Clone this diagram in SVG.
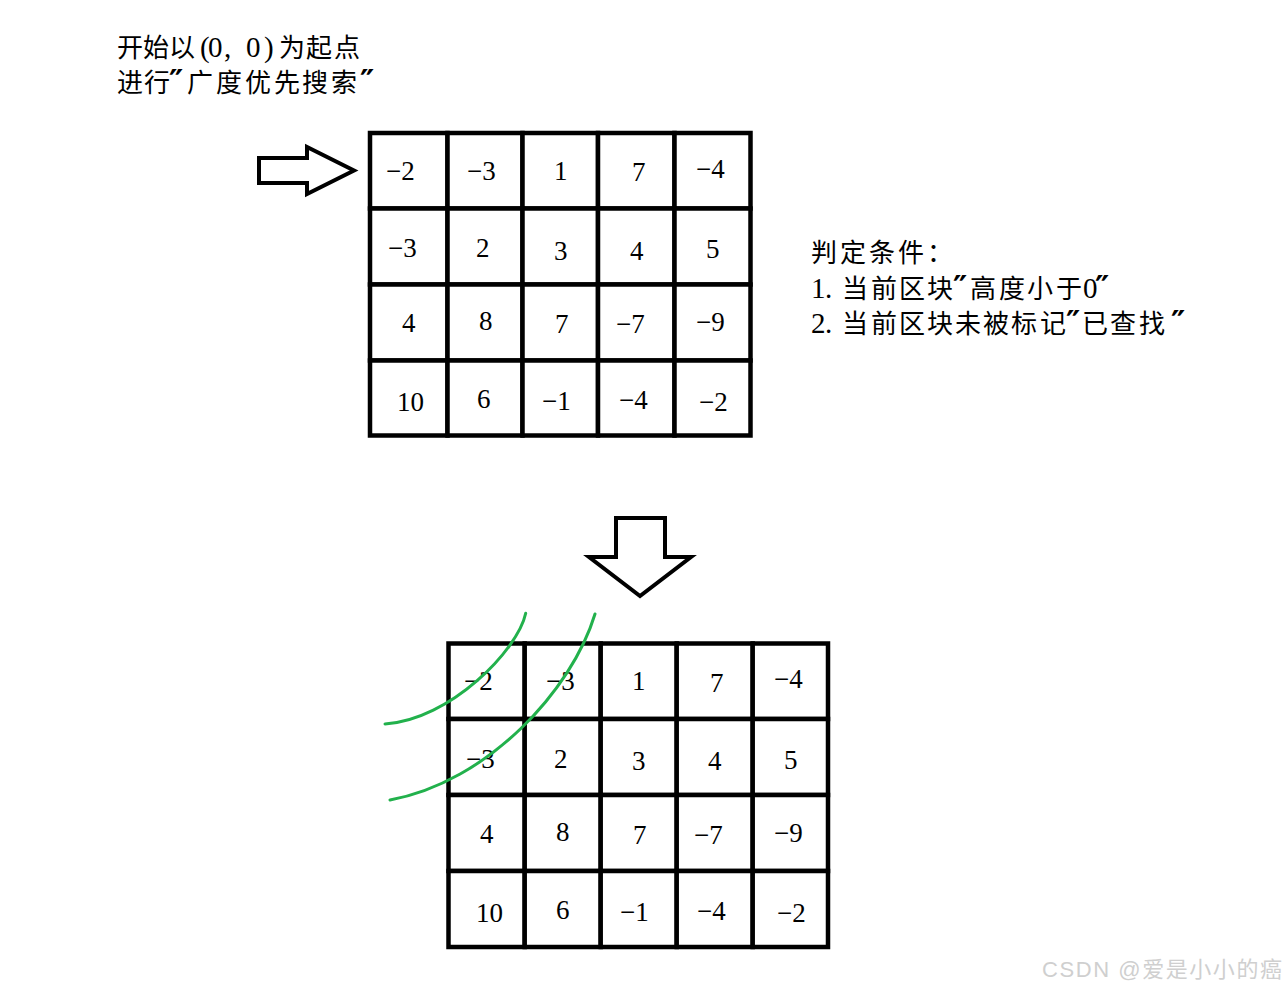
<svg xmlns="http://www.w3.org/2000/svg" width="1284" height="990" viewBox="0 0 1284 990">
<style>
.cell{fill:#fff;stroke:#000;stroke-width:4.5}
.num{font-family:"Liberation Serif","DejaVu Serif",serif;font-size:27px;fill:#000}
.cn{font-family:"Liberation Serif","Noto Sans CJK SC",serif;font-size:26px;fill:#000}
.lat{font-family:"Liberation Serif","DejaVu Serif",serif;font-size:29px}
.q{font-family:"DejaVu Serif","Liberation Serif",serif;font-size:32px;font-weight:bold}
.arrow{fill:#fff;stroke:#000;stroke-width:4;stroke-linejoin:miter}
.mark{fill:none;stroke:#22b14c;stroke-width:3;stroke-linecap:round}
.wm{font-family:"Liberation Sans","Noto Sans CJK SC",sans-serif;font-size:22px;fill:#cfcfcf}
</style>
<rect width="1284" height="990" fill="#fff"/>

<g id="title">
<text class="cn" y="57"><tspan x="117 143 169">开始以</tspan><tspan class="lat" x="200 208 224 231 246 264">(0, 0)</tspan><tspan x="279 306 334">为起点</tspan></text>
<text class="cn" y="92"><tspan x="117 144">进行</tspan><tspan class="q" x="169">″</tspan><tspan x="187 216 245 274 302 331">广度优先搜索</tspan><tspan class="q" x="360">″</tspan></text>
</g>

<g id="conditions">
<text class="cn" y="262" x="811 840 869 898 927">判定条件：</text>
<text class="cn" y="298"><tspan class="lat" x="811 825 836">1. </tspan><tspan x="842 871 899 927">当前区块</tspan><tspan class="q" x="953">″</tspan><tspan x="970 999 1027 1056">高度小于</tspan><tspan class="lat" x="1083">0</tspan><tspan class="q" x="1095">″</tspan></text>
<text class="cn" y="333"><tspan class="lat" x="811 825 836">2. </tspan><tspan x="842 871 899 927 955 983 1011 1040">当前区块未被标记</tspan><tspan class="q" x="1066">″</tspan><tspan x="1082 1110 1139">已查找</tspan><tspan class="q" x="1171">″</tspan></text>
</g>

<g id="grid-before">
<g id="a00"><rect class="cell" x="370" y="133" width="77.5" height="75.5"/><text class="num" x="386" y="180">−2</text></g>
<g id="a01"><rect class="cell" x="447.5" y="133" width="75" height="75.5"/><text class="num" x="467" y="180">−3</text></g>
<g id="a02"><rect class="cell" x="522.5" y="133" width="75.5" height="75.5"/><text class="num" x="554" y="180">1</text></g>
<g id="a03"><rect class="cell" x="598" y="133" width="76.5" height="75.5"/><text class="num" x="632" y="181">7</text></g>
<g id="a04"><rect class="cell" x="674.5" y="133" width="76" height="75.5"/><text class="num" x="696" y="178">−4</text></g>

<g id="a10"><rect class="cell" x="370" y="208.5" width="77.5" height="76"/><text class="num" x="388" y="257">−3</text></g>
<g id="a11"><rect class="cell" x="447.5" y="208.5" width="75" height="76"/><text class="num" x="476" y="257">2</text></g>
<g id="a12"><rect class="cell" x="522.5" y="208.5" width="75.5" height="76"/><text class="num" x="554" y="260">3</text></g>
<g id="a13"><rect class="cell" x="598" y="208.5" width="76.5" height="76"/><text class="num" x="630" y="260">4</text></g>
<g id="a14"><rect class="cell" x="674.5" y="208.5" width="76" height="76"/><text class="num" x="706" y="258">5</text></g>

<g id="a20"><rect class="cell" x="370" y="284.5" width="77.5" height="76"/><text class="num" x="402" y="332">4</text></g>
<g id="a21"><rect class="cell" x="447.5" y="284.5" width="75" height="76"/><text class="num" x="479" y="330">8</text></g>
<g id="a22"><rect class="cell" x="522.5" y="284.5" width="75.5" height="76"/><text class="num" x="555" y="333">7</text></g>
<g id="a23"><rect class="cell" x="598" y="284.5" width="76.5" height="76"/><text class="num" x="616" y="333">−7</text></g>
<g id="a24"><rect class="cell" x="674.5" y="284.5" width="76" height="76"/><text class="num" x="696" y="331">−9</text></g>

<g id="a30"><rect class="cell" x="370" y="360.5" width="77.5" height="75"/><text class="num" x="397" y="411">10</text></g>
<g id="a31"><rect class="cell" x="447.5" y="360.5" width="75" height="75"/><text class="num" x="477" y="408">6</text></g>
<g id="a32"><rect class="cell" x="522.5" y="360.5" width="75.5" height="75"/><text class="num" x="542" y="410">−1</text></g>
<g id="a33"><rect class="cell" x="598" y="360.5" width="76.5" height="75"/><text class="num" x="619" y="409">−4</text></g>
<g id="a34"><rect class="cell" x="674.5" y="360.5" width="76" height="75"/><text class="num" x="699" y="411">−2</text></g>
</g>

<g id="grid-after">
<g id="b00"><rect class="cell" x="448.5" y="643.5" width="76.2" height="75.5"/><text class="num" x="464" y="690">−2</text></g>
<g id="b01"><rect class="cell" x="524.7" y="643.5" width="76" height="75.5"/><text class="num" x="546" y="690">−3</text></g>
<g id="b02"><rect class="cell" x="600.7" y="643.5" width="76" height="75.5"/><text class="num" x="632" y="690">1</text></g>
<g id="b03"><rect class="cell" x="676.7" y="643.5" width="76" height="75.5"/><text class="num" x="710" y="692">7</text></g>
<g id="b04"><rect class="cell" x="752.7" y="643.5" width="75.3" height="75.5"/><text class="num" x="774" y="688">−4</text></g>

<g id="b10"><rect class="cell" x="448.5" y="719" width="76.2" height="76"/><text class="num" x="466" y="768">−3</text></g>
<g id="b11"><rect class="cell" x="524.7" y="719" width="76" height="76"/><text class="num" x="554" y="768">2</text></g>
<g id="b12"><rect class="cell" x="600.7" y="719" width="76" height="76"/><text class="num" x="632" y="770">3</text></g>
<g id="b13"><rect class="cell" x="676.7" y="719" width="76" height="76"/><text class="num" x="708" y="770">4</text></g>
<g id="b14"><rect class="cell" x="752.7" y="719" width="75.3" height="76"/><text class="num" x="784" y="769">5</text></g>

<g id="b20"><rect class="cell" x="448.5" y="795" width="76.2" height="76"/><text class="num" x="480" y="843">4</text></g>
<g id="b21"><rect class="cell" x="524.7" y="795" width="76" height="76"/><text class="num" x="556" y="841">8</text></g>
<g id="b22"><rect class="cell" x="600.7" y="795" width="76" height="76"/><text class="num" x="633" y="844">7</text></g>
<g id="b23"><rect class="cell" x="676.7" y="795" width="76" height="76"/><text class="num" x="694" y="844">−7</text></g>
<g id="b24"><rect class="cell" x="752.7" y="795" width="75.3" height="76"/><text class="num" x="774" y="842">−9</text></g>

<g id="b30"><rect class="cell" x="448.5" y="871" width="76.2" height="76"/><text class="num" x="476" y="922">10</text></g>
<g id="b31"><rect class="cell" x="524.7" y="871" width="76" height="76"/><text class="num" x="556" y="919">6</text></g>
<g id="b32"><rect class="cell" x="600.7" y="871" width="76" height="76"/><text class="num" x="620" y="921">−1</text></g>
<g id="b33"><rect class="cell" x="676.7" y="871" width="76" height="76"/><text class="num" x="697" y="920">−4</text></g>
<g id="b34"><rect class="cell" x="752.7" y="871" width="75.3" height="76"/><text class="num" x="777" y="922">−2</text></g>
</g>

<g id="connectors">
<polygon class="arrow" points="259,158 307,158 307,147 354,170.5 307,194 307,183 259,183"/>
<polygon class="arrow" points="616,518 665,518 665,557 691,557 640,596 589,557 616,557"/>
</g>

<g id="marks">
<path class="mark" d="M525.7,613.3 C518,650 450,720 385,724"/>
<path class="mark" d="M595,614 C572,690 488,782 390,800"/>
</g>

<text class="wm" x="1042" y="977" textLength="240" lengthAdjust="spacing">CSDN @爱是小小的癌</text>
</svg>
